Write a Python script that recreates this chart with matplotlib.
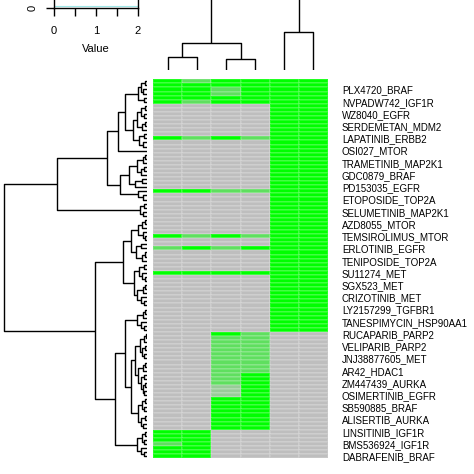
import matplotlib
matplotlib.use('Agg')
import matplotlib.pyplot as plt
from matplotlib.colors import LinearSegmentedColormap
import numpy as np

plt.rcParams['font.family'] = ['Liberation Sans', 'DejaVu Sans']

# heatmap values, top to bottom, as (number of rows, values for the 6 columns)
row_blocks = [
    (1, [2, 1, 2, 2, 2, 2]),
    (1, [2, 2, 2, 2, 2, 2]),
    (2, [2, 2, 1, 2, 2, 2]),
    (1, [2, 2, 2, 2, 2, 2]),
    (1, [2, 1, 2, 2, 2, 2]),
    (8, [0, 0, 0, 0, 2, 2]),
    (1, [2, 1, 2, 1, 2, 2]),
    (12, [0, 0, 0, 0, 2, 2]),
    (1, [2, 2, 1, 1, 2, 2]),
    (10, [0, 0, 0, 0, 2, 2]),
    (1, [2, 1, 2, 1, 2, 2]),
    (2, [0, 0, 0, 0, 2, 2]),
    (1, [1, 2, 1, 2, 2, 2]),
    (5, [0, 0, 0, 0, 2, 2]),
    (1, [2, 2, 2, 2, 2, 2]),
    (14, [0, 0, 0, 0, 2, 2]),
    (1, [0, 0, 2, 1, 0, 0]),
    (9, [0, 0, 1, 1, 0, 0]),
    (3, [0, 0, 1, 2, 0, 0]),
    (3, [0, 0, 0.4, 2, 0, 0]),
    (8, [0, 0, 2, 2, 0, 0]),
    (3, [2, 2, 0, 0, 0, 0]),
    (1, [1, 2, 0, 0, 0, 0]),
    (3, [2, 2, 0, 0, 0, 0]),
]

drug_labels = ['PLX4720_BRAF', 'NVPADW742_IGF1R', 'WZ8040_EGFR', 'SERDEMETAN_MDM2',
               'LAPATINIB_ERBB2', 'OSI027_MTOR', 'TRAMETINIB_MAP2K1', 'GDC0879_BRAF',
               'PD153035_EGFR', 'ETOPOSIDE_TOP2A', 'SELUMETINIB_MAP2K1', 'AZD8055_MTOR',
               'TEMSIROLIMUS_MTOR', 'ERLOTINIB_EGFR', 'TENIPOSIDE_TOP2A', 'SU11274_MET',
               'SGX523_MET', 'CRIZOTINIB_MET', 'LY2157299_TGFBR1', 'TANESPIMYCIN_HSP90AA1',
               'RUCAPARIB_PARP2', 'VELIPARIB_PARP2', 'JNJ38877605_MET', 'AR42_HDAC1',
               'ZM447439_AURKA', 'OSIMERTINIB_EGFR', 'SB590885_BRAF', 'ALISERTIB_AURKA',
               'LINSITINIB_IGF1R', 'BMS536924_IGF1R', 'DABRAFENIB_BRAF']
label_rows = list(range(2, 93, 3))

# dendrograms: [height, left, right], leaves are row / column indices
top_block = [9, [6, [2, 0, 1], [4, 2, 3]], [3, 4, 5]]
grey_a = [14, [10, [6, [2, 6, 7], [3, 8, 9]], [5, [2, 10, 11], 12]], [8, [3, 13, 14], [4, 15, 16]]]
clust_d = [29, [22, top_block, grey_a], 17]
clust_e = [27, [18, [10, [4, [2, 18, 19], 20], [6, [3, 21, 22], 23]], [12, [5, 24, 25], 26]],
           [9, 27, [4, 28, 29]]]
clust_c = [7, [3, 30, 31], [4, 32, 33]]
clust_a = [90, [40, clust_d, clust_e], clust_c]
clust_g = [24, [16, [9, [5, [2, 34, 35], 36], [4, 37, [2, 38, 39]]],
                [11, [6, 40, 41], [5, [2, 42, 43], 44]]],
           [13, [8, [3, 45, 46], [5, 47, [2, 48, 49]]],
                [10, [4, [2, 50, 51], 52], [6, 53, [3, 54, 55]]]]]
clust_h1 = [10, [4, [2, 56, 57], 58], [6, 59, [3, 60, 61]]]
clust_h2 = [12, [7, [3, [1.5, 62, 63], 64], [5, [2, 65, 66], [3, 67, 68]]],
            [9, [4, [2, 69, 70], 71], [6, [3, 72, 73], [4, [2, 74, 75], [3, 76, 77]]]]]
clust_h3 = [9, [5, [2, 78, 79], [3, 80, 81]], [6, [2, 82, 83], [4, 84, 85]]]
clust_h4 = [10, [5, [2, 86, 87], [3, 88, 89]], [6, 90, [3, 91, 92]]]
clust_h = [32, [22, clust_h1, [16, clust_h2, clust_h3]], clust_h4]
row_tree = [143, clust_a, [52, clust_g, clust_h]]

col_tree = [80, [27.3, [13.3, 0, 1], [11, 2, 3]], [38.3, 4, 5]]

key_x = [0, 0.5, 1, 1.5, 2]
key_density = [0.012, 0.012, 0.012, 0.012, 0.012]


def draw_tree(ax, node, sideways):
    if not isinstance(node, list):
        return node + 0.5, 0.0
    h, left, right = node
    p1, h1 = draw_tree(ax, left, sideways)
    p2, h2 = draw_tree(ax, right, sideways)
    hs = [h1, h, h, h2]
    ps = [p1, p1, p2, p2]
    if sideways:
        ax.plot(hs, ps, color='black', lw=1.0, solid_capstyle='butt')
    else:
        ax.plot(ps, hs, color='black', lw=1.0, solid_capstyle='butt')
    return (p1 + p2) / 2.0, h


values = np.array([vals for n, vals in row_blocks for _ in range(n)], dtype=float)
nrow, ncol = values.shape

W = 474.0
fig = plt.figure(figsize=(4.74, 4.74), dpi=100)

hm_left, hm_right, hm_top, hm_bottom = 153, 328, 79.3, 458.3
ax = fig.add_axes([hm_left / W, 1 - hm_bottom / W, (hm_right - hm_left) / W, (hm_bottom - hm_top) / W])
cmap = LinearSegmentedColormap.from_list('gg', ['#BEBEBE', '#00FF00'])
ax.pcolormesh(values, cmap=cmap, vmin=0, vmax=2, edgecolors=(1, 1, 1, 0.14), linewidth=0.3)
ax.set_xlim(0, ncol)
ax.set_ylim(nrow, 0)
for s in ax.spines.values():
    s.set_visible(False)
ax.set_xticks([])
ax.yaxis.tick_right()
ax.set_yticks([r + 0.5 for r in label_rows])
ax.set_yticklabels(drug_labels, fontsize=7)
ax.tick_params(axis='y', length=0, pad=10)

# row dendrogram
axl = fig.add_axes([0, 1 - hm_bottom / W, 147 / W, (hm_bottom - hm_top) / W])
draw_tree(axl, row_tree, True)
axl.set_xlim(147, 0)
axl.set_ylim(nrow, 0)
axl.axis('off')

# column dendrogram
axt = fig.add_axes([hm_left / W, 1 - 70 / W, (hm_right - hm_left) / W, 70 / W])
draw_tree(axt, col_tree, False)
axt.set_xlim(0, ncol)
axt.set_ylim(0, 70)
axt.axis('off')

# color key (top is cut off)
axk = fig.add_axes([54 / W, 1 - 7.5 / W, 84 / W, 0.2])
axk.plot(key_x, key_density, color='#9FE8E8', lw=0.8)
axk.set_xlim(0, 2)
axk.set_ylim(0, 1)
axk.set_xticks(key_x)
axk.set_xticklabels(['0', '', '1', '', '2'], fontsize=8)
axk.set_yticks([0])
axk.set_yticklabels(['0'], fontsize=8, rotation=90, va='center')
axk.tick_params(length=5.5, width=1.0)
axk.tick_params(axis='x', pad=8)
axk.tick_params(axis='y', pad=6)
axk.set_xlabel('Value', fontsize=8, labelpad=5.5)
for s in axk.spines.values():
    s.set_linewidth(1.0)

fig.savefig('out.png', dpi=100)
